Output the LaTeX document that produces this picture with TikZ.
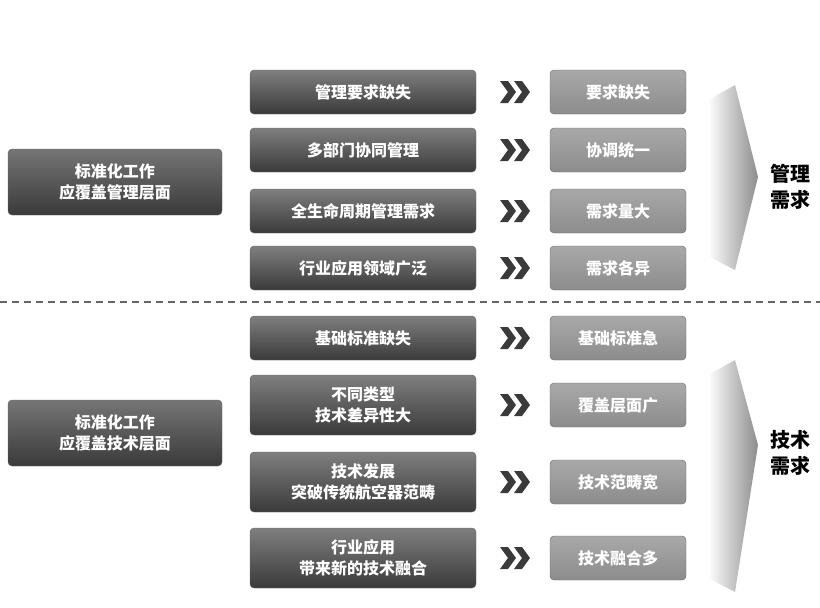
\documentclass[tikz,border=0pt]{standalone}
\usepackage{fontspec}
\setmainfont{Noto Sans CJK SC}
\usetikzlibrary{positioning}
\definecolor{darkbox}{HTML}{3A3A3A}
\definecolor{midbox}{HTML}{8C8C8C}
\begin{document}
\begin{tikzpicture}[x=1pt,y=-1pt,font=\bfseries\fontsize{16}{21}\selectfont]
    \tikzstyle{box}=[rounded corners=4pt, text=white, align=center, inner sep=2pt, draw=black!60]
    \tikzstyle{side box}=[box, top color=darkbox!70, bottom color=darkbox, minimum width=214pt, minimum height=66pt]
    \tikzstyle{cause box}=[box, top color=darkbox!65, bottom color=darkbox, minimum width=226pt]
    \tikzstyle{result box}=[box, top color=midbox!75, bottom color=midbox, minimum width=136pt, minimum height=44pt]
    \tikzstyle{sum}=[align=center, font=\bfseries\fontsize{20}{26}\selectfont]

    \useasboundingbox (0,0) rectangle (820,608);

    \node[side box] (S-1) at (115,182) {标准化工作\\应覆盖管理层面};
    \node[side box] (S-2) at (115,433) {标准化工作\\应覆盖技术层面};

    % rows: y, height, cause, result
    \foreach \i/\y/\h/\c/\r in {1/92/44/管理要求缺失/要求缺失,
                                2/150/44/多部门协同管理/协调统一,
                                3/211/44/全生命周期管理需求/需求量大,
                                4/268/44/行业应用领域广泛/需求各异,
                                5/338/44/基础标准缺失/基础标准急,
                                6/405/60/{不同类型\\技术差异性大}/覆盖层面广,
                                7/482/60/{技术发展\\突破传统航空器范畴}/技术范畴宽,
                                8/558/60/{行业应用\\带来新的技术融合}/技术融合多} {
        \node[cause box, minimum height=\h pt] (C-\i) at (363,\y) {\c};
        \node[result box] (R-\i) at (618,\y) {\r};
        \fill[darkbox] (500,\y-11) -- (508,\y-11) -- (516,\y) -- (508,\y+11) -- (500,\y+11) -- (508,\y) -- cycle;
        \fill[darkbox] (514,\y-11) -- (522,\y-11) -- (530,\y) -- (522,\y+11) -- (514,\y+11) -- (522,\y) -- cycle;
    }

    \draw[dashed, line width=2pt, black!60, dash pattern=on 7pt off 5pt] (0,302) -- (820,302);

    % summary arrows
    \shade[left color=white, right color=black!45] (708,100) -- (735,85) -- (758,177) -- (735,270) -- (708,256) -- cycle;
    \shade[left color=white, right color=black!45] (708,375) -- (735,360) -- (758,445) -- (735,592) -- (708,578) -- cycle;
    \node[sum] (N-1) at (790,187) {管理\\需求};
    \node[sum] (N-2) at (790,453) {技术\\需求};
\end{tikzpicture}
\end{document}
